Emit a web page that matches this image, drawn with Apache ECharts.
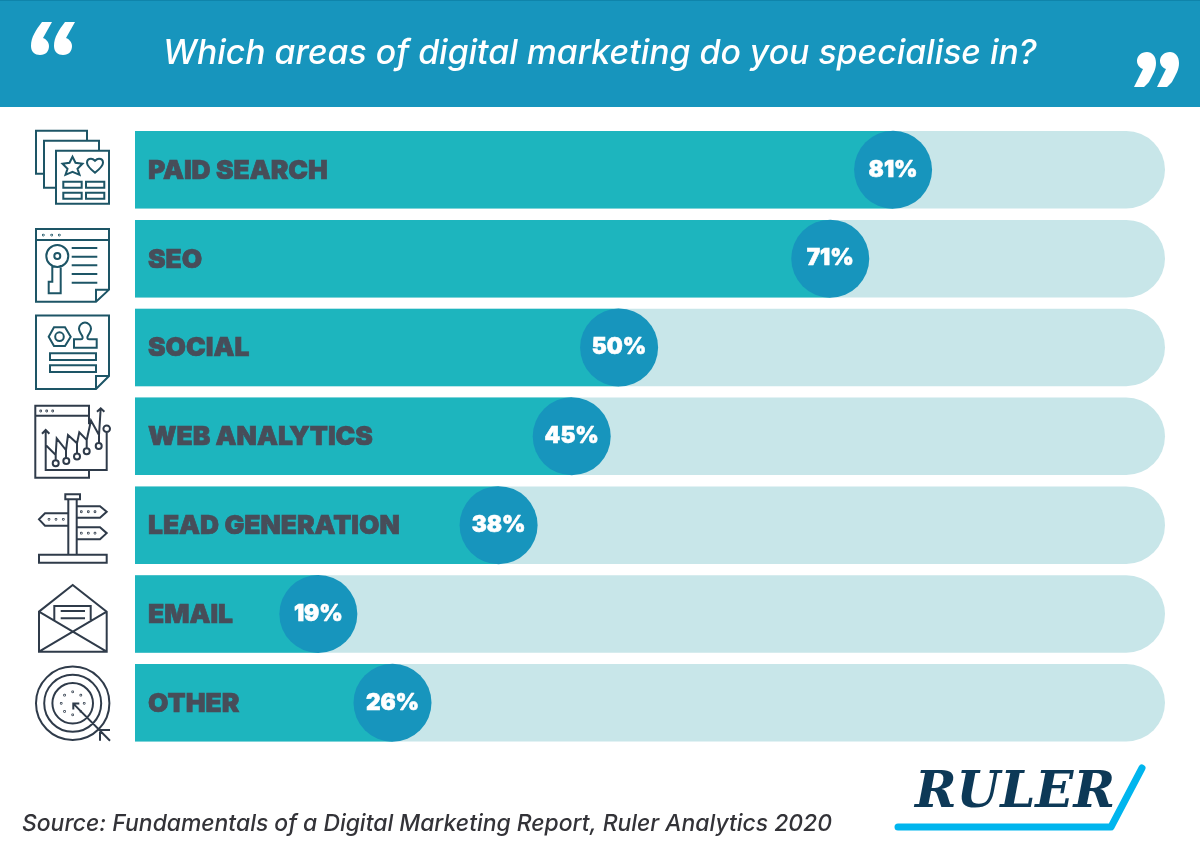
<!DOCTYPE html>
<html>
<head>
<meta charset="utf-8" />
<title>Which areas of digital marketing do you specialise in?</title>
<script src="https://cdn.jsdelivr.net/npm/echarts@6/dist/echarts.min.js"></script>
</head>
<body style="margin:0;background:#fff;">
<div id="chart" style="width:1200px;height:855px;"></div>
<script>
var categories = ['PAID SEARCH', 'SEO', 'SOCIAL', 'WEB ANALYTICS', 'LEAD GENERATION', 'EMAIL', 'OTHER'];
// printed percentages
var percentLabels = ['81%', '71%', '50%', '45%', '38%', '19%', '26%'];
// where each fill really ends in the picture, as % of the pale track
var fillEnds = [73.6, 67.5, 47, 42.4, 35.3, 17.8, 25];
var trackValues = [100, 100, 100, 100, 100, 100, 100];

var titleText = 'Which areas of digital marketing do you specialise in?';
var sourceText = 'Source: Fundamentals of a Digital Marketing Report, Ruler Analytics 2020';

function circ(cx, cy, r) {
	return 'M' + (cx - r) + ' ' + cy + 'a' + r + ' ' + r + ' 0 1 0 ' + (2 * r) + ' 0a' + r + ' ' + r + ' 0 1 0 ' + (-2 * r) + ' 0Z';
}
function dots(list, y) {
	return list.map(function (x) { return circ(x, y, 0.4); }).join('');
}
function ring(cx, cy, r, n) {
	var s = '';
	for (var i = 0; i < n; i++) {
		s += circ(cx + r * Math.cos(i * 2 * Math.PI / n), cy + r * Math.sin(i * 2 * Math.PI / n), 0.4);
	}
	return s;
}

// icons: page x, y relative to the row centre
var iconColors = ['#1d5566', '#1d5566', '#1d5566', '#2f3b4a', '#2f3b4a', '#2f3b4a', '#2f3b4a'];
var iconPaths = [
	'M87 -29V-39H36V4H44M99 -19V-29H44V18H56M56 -19H109V34H56Z' +
	'M72.5 -13L75.5 -7L82.5 -6L77.5 -1L79.5 5L72.5 2L65.5 5L67.5 -1L62.5 -6L69.5 -7Z' +
	'M95 3C90 -1 87 -4 87 -7C87 -10 89 -11 91 -11C93 -11 94 -10 95 -9C96 -10 97 -11 99 -11C101 -11 103 -10 103 -7C103 -4 100 -1 95 3Z' +
	'M63.3 12H81.7V18H63.3ZM86 12H104.3V18H86ZM63.3 23H81.7V29H63.3ZM86 23H104.3V29H86Z',

	'M36 -29.6H109V31L96 43H36ZM36 -18.6H109M96 43V31H109' + dots([43.3, 51.7, 59.3], -23.6) +
	circ(57.3, -2.6, 11) + circ(57.3, -2.6, 3) +
	'M52.3 6.4V23H48.7V34.7H60.7V6.4' +
	'M71.7 -10.6H97.3M71.7 -2H97.3M71.7 6.7H97.3M71.7 15.4H97.3M71.7 24H97.3',

	'M36 -32H109V28.5L96 41.5H36ZM96 41.5V28.5H109' +
	'M48.7 -10.8L54 -20.2H65L70.7 -10.8L65 -1.5H54Z' + circ(59.5, -10.8, 4.3) +
	'M74 0.2H96.7V-8.2H89C87 -8.2 87 -10 88 -12C90 -15 91 -17 91 -19C91 -22 88 -25 85 -25C82 -25 79 -22 79 -19C79 -17 80 -15 82 -12C83 -10 83 -8.2 81 -8.2H74Z' +
	'M50 5.8H96V12.5H50ZM50 17.8H96V24.5H50Z',

	'M89 -12V-30.6H35.3V41.4H89V33.7M35.3 -20.6H89' + dots([40.7, 46.7, 52.7], -25.3) +
	'M45.7 -6V33.7H106.7V-4.3' + circ(106.7, -7.6, 3.3) +
	'M42 -2.5L45.7 -6.3L49.4 -2.5M45.7 8.7L55.7 18.7L56.7 2L66 13.7L68 -1.3L77 7L79.3 -4L86.7 3.7L91 -15.7L99 -1.3L100.7 -28M97 -24.5L100.7 -28L104.4 -24.5' +
	'M55.7 18.7V24' + circ(55.7, 27, 3) + 'M66 13.7V21.7' + circ(66.3, 24.7, 3) +
	'M77 7V17.3' + circ(77, 20.3, 3) + 'M86.7 3.7V12' + circ(86.7, 15, 3) + 'M99 -1.3V6.7' + circ(98.7, 9.7, 3),

	'M68.3 -26V29.6M76.7 -26V29.6M65.3 -30.8H80V-26H65.3ZM39 29.6H106.7V37.6H39Z' +
	'M76.7 -19H100L106.7 -13.4L100 -7.4H76.7M68.3 -11.8H45L39 -5.8L45 0.6H68.3M76.7 2.2H100L106.7 8L100 14.2H76.7' +
	dots([81.3, 88.3, 95], -13.4) + dots([49, 56, 63.3], -5.8) + dots([81.3, 88.3, 95], 8),

	'M39 -2.3L72.7 -29L106.7 -2.3V37.7H39ZM39 -2.3L106.7 37.7M106.7 -2.3L39 37.7' +
	'M54.3 6V-8H90.7V6M60.7 -3H85M60.7 4.3H85',

	circ(72.7, 0.5, 36.7) + circ(72.7, 0.5, 28.5) + circ(72.7, 0.5, 20.3) + ring(72.7, 0.5, 11.5, 8) +
	'M73.3 0.8L110 37.9M73.3 6.8V0.8H79.3M100 37.9V27.2H110'
];

var quotePaths = [
	// opening
	'M42 22C36 30 31 37 31 46C31 52 35 55 40 55C46 55 49 51 49 46C49 42 46 39 43 38L52 22Z' +
	'M65 22C59 30 54 37 54 46C54 52 58 55 63 55C69 55 72 51 72 46C72 42 69 39 66 38L75 22Z',
	// closing
	'M1167 87L1172 82C1176 74 1179 70 1179 63C1179 56 1175 52 1170 52C1164 52 1160 56 1160 61C1160 65 1163 68 1166 69L1157 87Z' +
	'M1144 87L1149 82C1153 74 1156 70 1156 63C1156 56 1152 52 1147 52C1141 52 1137 56 1137 61C1137 65 1140 68 1143 69L1134 87Z'
];

var dom = document.getElementById('chart');
var myChart = echarts.init(dom, null, { renderer: 'canvas' });

var option = {
	animation: false,
	backgroundColor: '#ffffff',
	title: [
		{
			text: titleText,
			left: 158,
			top: 32,
			textStyle: { color: '#ffffff', fontFamily: 'Inter', fontStyle: 'italic', fontWeight: 500, fontSize: 33.8 }
		},
		{
			text: sourceText,
			left: 17,
			top: 808,
			textStyle: { color: '#333338', fontFamily: 'Inter', fontStyle: 'italic', fontWeight: 500, fontSize: 22.9 }
		}
	],
	graphic: [
		{ type: 'rect', z: -1, shape: { x: 0, y: 0, width: 1200, height: 107 }, style: { fill: '#1795bd' } },
		{ type: 'line', z: -1, shape: { x1: 0, y1: 0.5, x2: 1200, y2: 0.5 }, style: { stroke: '#0f84aa', lineWidth: 1 } },
		{ type: 'polyline', shape: { points: [[898, 827], [1111, 827], [1142, 768]] },
			style: { stroke: '#00b5ee', lineWidth: 7, lineCap: 'round', lineJoin: 'round', fill: null } },
		{ type: 'text', x: 915, y: 769,
			style: { text: 'RULER', fill: '#0d3957', fontFamily: 'DejaVu Serif', fontStyle: 'italic', fontWeight: 'bold', fontSize: 50 } }
	],
	grid: { left: 135, width: 1030, top: 125.4, height: 621.8 },
	xAxis: { type: 'value', min: 0, max: 100, show: false },
	yAxis: { type: 'category', inverse: true, data: categories, show: false },
	series: [
		{
			type: 'bar', data: trackValues, barWidth: 77.5, barGap: '-100%', silent: true,
			itemStyle: { color: '#c8e6e9', borderRadius: [0, 39, 39, 0] }
		},
		{
			type: 'bar', data: fillEnds, barWidth: 77.5, barGap: '-100%', silent: true,
			itemStyle: { color: '#1db5be' },
			label: {
				show: true, position: 'insideLeft', distance: 13, offset: [0, 1],
				formatter: function (p) { return p.name; },
				color: '#474d59', fontFamily: 'Inter', fontWeight: 900, fontSize: 26.4,
				textBorderColor: '#474d59', textBorderWidth: 0.7
			}
		},
		{
			type: 'scatter', silent: true, symbol: 'circle', symbolSize: 78, z: 4,
			data: fillEnds.map(function (v, i) { return [v, i]; }),
			itemStyle: { color: '#1795bd', opacity: 1 },
			label: {
				show: true, position: 'inside',
				formatter: function (p) { return percentLabels[p.dataIndex]; },
				color: '#ffffff', fontFamily: 'Inter', fontWeight: 900, fontSize: 22.5,
				textBorderColor: '#ffffff', textBorderWidth: 0.6
			}
		},
		{
			type: 'custom', silent: true, clip: false, z: 5,
			data: categories.map(function (c, i) { return [0, i]; }),
			renderItem: function (params, api) {
				var i = params.dataIndex;
				return {
					type: 'path', x: 0, y: api.coord([0, api.value(1)])[1],
					shape: { pathData: iconPaths[i] },
					style: { fill: 'none', stroke: iconColors[i], lineWidth: 2 }
				};
			}
		},
		{
			type: 'custom', silent: true, coordinateSystem: 'none', z: 5,
			data: [[0], [1]],
			renderItem: function (params) {
				return {
					type: 'path',
					shape: { pathData: quotePaths[params.dataIndex] },
					style: { fill: '#ffffff' }
				};
			}
		}
	]
};
myChart.setOption(option);
window.addEventListener('resize', myChart.resize);
</script>
</body>
</html>
